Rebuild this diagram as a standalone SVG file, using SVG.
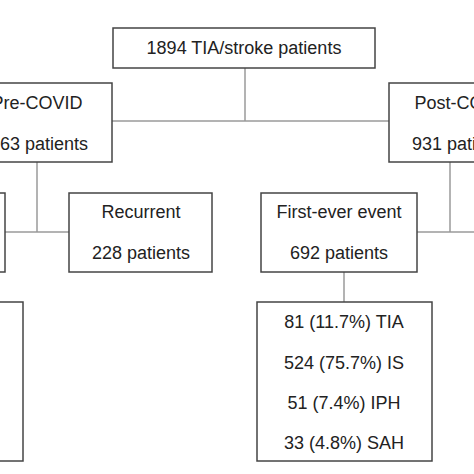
<svg xmlns="http://www.w3.org/2000/svg" width="474" height="474" viewBox="0 0 474 474">
<style>
.box{fill:#fff;stroke:#444;stroke-width:1.5}
.t{font-family:"Liberation Sans",Arial,sans-serif;font-size:18px;fill:#222;text-anchor:middle;dominant-baseline:central}
.c{fill:none;stroke:#9a9a9a;stroke-width:1.5}
</style>
<rect width="474" height="474" fill="#fff"/>
<g id="connectors">
<path class="c" d="M245 68V121M112 121H389"/>
<path class="c" d="M37 162V232M5 232H69"/>
<path class="c" d="M450 162V232M417 232H474"/>
<path class="c" d="M344 272V302"/>
</g>
<g id="total"><rect class="box" x="113" y="28" width="262" height="40"/><text class="t" x="244" y="48">1894 TIA/stroke patients</text></g>
<g id="pre"><rect class="box" x="-40" y="83" width="152" height="79"/><text class="t" x="37" y="103">Pre-COVID</text><text class="t" x="39" y="144">963 patients</text></g>
<g id="post"><rect class="box" x="389" y="83" width="152" height="79"/><text class="t" x="464" y="103">Post-COVID</text><text class="t" x="461" y="144">931 patients</text></g>
<g id="pre-first"><rect class="box" x="-150" y="193" width="155" height="79"/></g>
<g id="pre-recurrent"><rect class="box" x="69" y="193" width="143" height="79"/><text class="t" x="141" y="212">Recurrent</text><text class="t" x="141" y="253">228 patients</text></g>
<g id="post-first"><rect class="box" x="261" y="193" width="156" height="79"/><text class="t" x="339" y="212">First-ever event</text><text class="t" x="339" y="253">692 patients</text></g>
<g id="pre-subtypes"><rect class="box" x="-150" y="302" width="173" height="159"/></g>
<g id="post-subtypes"><rect class="box" x="257" y="302" width="175" height="159"/>
<text class="t" x="344" y="322">81 (11.7%) TIA</text>
<text class="t" x="344" y="363">524 (75.7%) IS</text>
<text class="t" x="344" y="403">51 (7.4%) IPH</text>
<text class="t" x="344" y="443">33 (4.8%) SAH</text></g>
</svg>
